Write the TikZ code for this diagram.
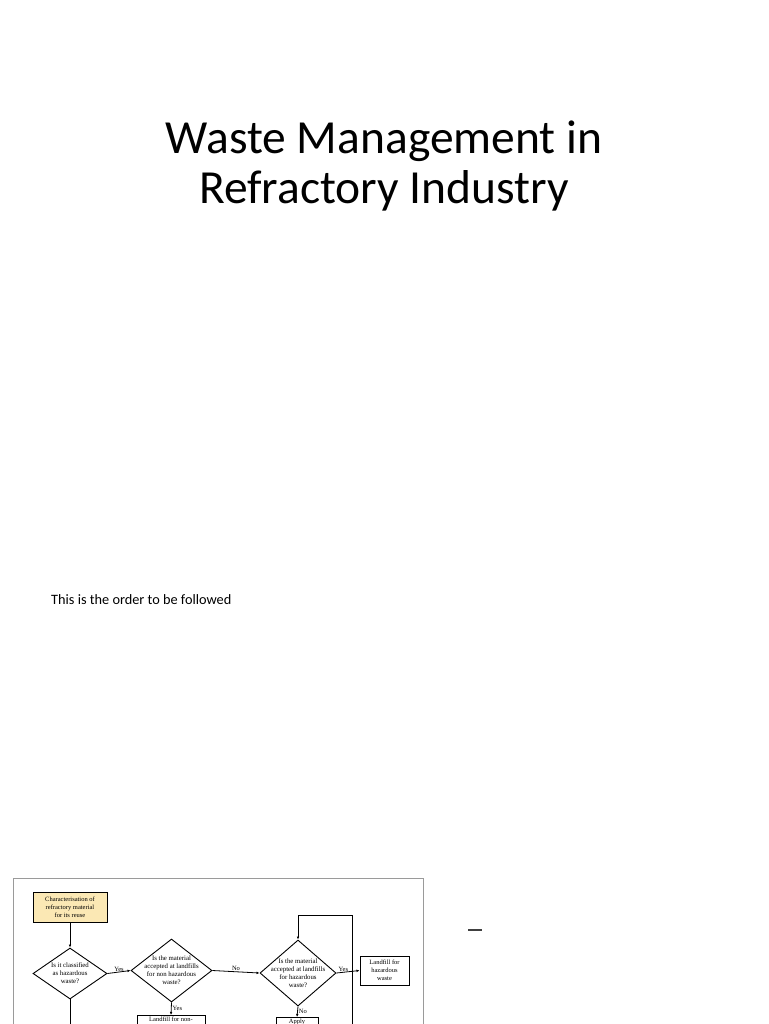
\documentclass[tikz,border=0pt]{standalone}
\usepackage{fontspec}
\setmainfont{Carlito}
\newfontfamily\dgfont{Liberation Serif}
\usetikzlibrary{shapes.geometric,arrows.meta}
\definecolor{boxfill}{HTML}{FBE8B4}
\definecolor{framegray}{HTML}{9A9A9A}
\tikzset{
  dtext/.style={font=\dgfont\fontsize{6.5}{7.8}\selectfont, align=center},
  ditext/.style={font=\dgfont\fontsize{6.8}{8}\selectfont, align=center},
  pbox/.style={draw=black, line width=0.9pt, dtext, inner sep=1.5pt},
  dia/.style={draw=black, line width=0.9pt, diamond, ditext, inner sep=-12pt},
  arr/.style={draw=black, line width=0.8pt, -{Latex[length=3pt,width=2.6pt]}},
  ln/.style={draw=black, line width=0.8pt},
  lab/.style={font=\dgfont\fontsize{6.5}{7.8}\selectfont, inner sep=0.5pt},
}
\begin{document}
\begin{tikzpicture}[x=1pt,y=-1pt]
\useasboundingbox (0,0) rectangle (768,1024);
\clip (0,0) rectangle (768,1024);
\fill[white] (0,0) rectangle (768,1024);
% title
\node[font=\fontsize{47.5}{50}\selectfont, align=center] (title) at (384,166) {Waste Management in\\Refractory Industry};
\node[font=\fontsize{14.3}{16}\selectfont, anchor=west, inner sep=0] (sub) at (51,600) {This is the order to be followed};
\node[inner sep=0, minimum width=14pt, minimum height=1.2pt, fill=black!75] (dash) at (475,930) {};
% frame
\draw[framegray, line width=0.9pt] (13,878) rectangle (423,1040);
% nodes
\node[pbox, fill=boxfill, minimum width=74pt, minimum height=30pt] (char) at (70,907) {Characterisation of\\refractory material\\for its reuse};
\node[dia, minimum width=74pt, minimum height=51pt] (d1) at (70,973.5) {Is it classified\\as hazardous\\waste?};
\node[dia, minimum width=81pt, minimum height=63pt] (d2) at (171.5,970.5) {Is the material\\accepted at landfills\\for non hazardous\\waste?};
\node[dia, minimum width=76pt, minimum height=66pt] (d3) at (298,973) {Is the material\\accepted at landfills\\for hazardous\\waste?};
\node[pbox, minimum width=49pt, minimum height=29pt] (lhaz) at (384.5,970.5) {Landfill for\\hazardous\\waste};
\node[pbox, anchor=north, minimum width=68pt, minimum height=24pt, text depth=14pt] (lnon) at (171,1015) {Landfill for non-\\hazardous};
\node[pbox, anchor=north, minimum width=42pt, minimum height=24pt, text depth=14pt] (apply) at (297,1017) {Apply\\treatment};
\coordinate (loopTL) at (298,915);
\coordinate (loopTR) at (352,915);
\coordinate (loopB) at (352,1040);
\coordinate (d1down) at (70,1040);
% connectors
\draw[arr] (char) -- (d1);
\draw[ln] (d1.south) -- (d1down);
\draw[arr] (d1.east) -- node[lab, above] {Yes} (d2.west);
\draw[arr] (d2.east) -- node[lab, above] {No} (d3.west);
\draw[arr] (d3.east) -- node[lab, above, pos=0.3] {Yes} (lhaz.west);
\draw[arr] (d2.south) -- node[lab, right, pos=0.5, xshift=0.5pt] {Yes} (lnon.north);
\draw[arr] (d3.south) -- node[lab, right, pos=0.5, xshift=0.5pt] {No} (apply.north);
\draw[arr] (loopB) -- (loopTR) -- (loopTL) -- (d3.north);
\end{tikzpicture}
\end{document}
